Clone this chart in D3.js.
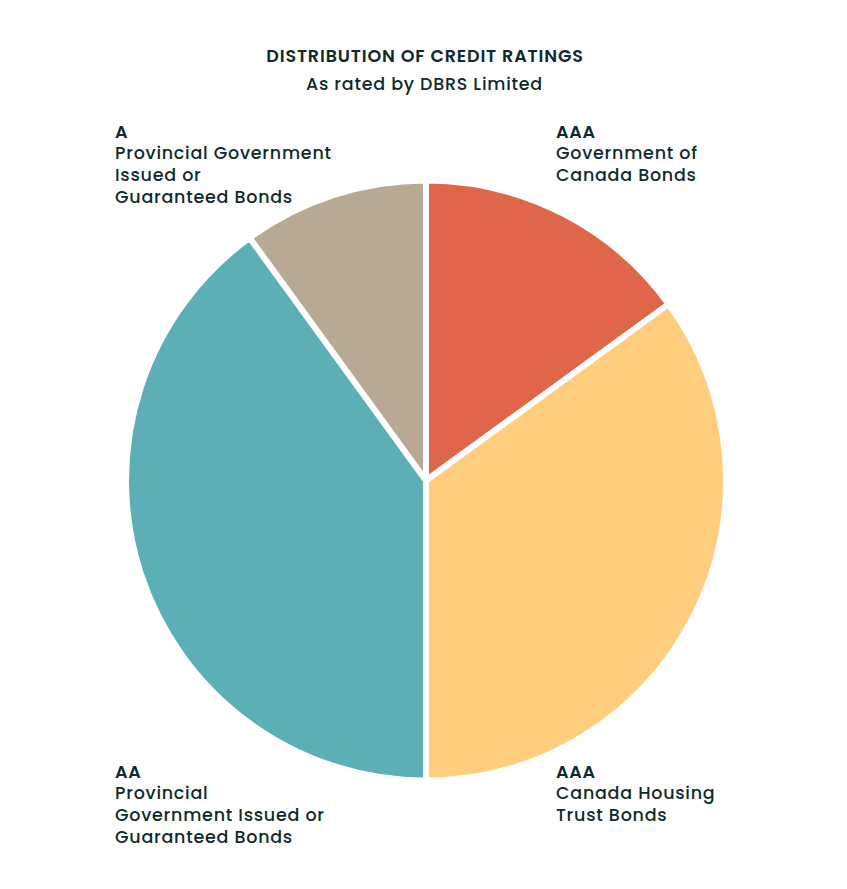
<!DOCTYPE html>
<html>
<head>
<meta charset="utf-8">
<script src="https://cdn.jsdelivr.net/npm/d3@7"></script>
<style>
  body { margin: 0; background: #fff; }
  svg text { font-family: Poppins, Inter, "Noto Sans", sans-serif; fill: #0f2a2b; }
</style>
</head>
<body>
<svg id="chart"></svg>
<script>
// chart data
const ratings = ["AAA", "AAA", "AA", "A"];
const categories = [
    ["Government of", "Canada Bonds"],
    ["Canada Housing", "Trust Bonds"],
    ["Provincial", "Government Issued or", "Guaranteed Bonds"],
    ["Provincial Government", "Issued or", "Guaranteed Bonds"]
];
const shares = [15, 35, 40, 10];
const colors = ["#e0664a", "#fecd7d", "#5dafb7", "#b8a995"];

const width = 847, height = 889;
const cx = 426, cy = 480.5, radius = 300;

const svg = d3.select("#chart")
    .attr("width", width)
    .attr("height", height);

svg.append("text")
    .attr("x", 425)
    .attr("y", 62)
    .attr("text-anchor", "middle")
    .style("font-size", "17.5px")
    .style("font-weight", 600)
    .style("letter-spacing", "0.85px")
    .text("DISTRIBUTION OF CREDIT RATINGS");

svg.append("text")
    .attr("x", 424.5)
    .attr("y", 89.5)
    .attr("text-anchor", "middle")
    .style("font-size", "17.5px")
    .style("font-weight", 500)
    .style("letter-spacing", "0.75px")
    .text("As rated by DBRS Limited");

const pie = d3.pie().sort(null).value(d => d);
const arc = d3.arc().innerRadius(0).outerRadius(radius);

const g = svg.append("g")
    .attr("transform", `translate(${cx}, ${cy})`);

g.selectAll("path")
    .data(pie(shares))
    .enter()
    .append("path")
    .attr("d", arc)
    .attr("fill", (d, i) => colors[i])
    .attr("stroke", "#fff")
    .attr("stroke-width", 6)
    .attr("stroke-linejoin", "round");

// label blocks sit in the four corners around the pie
const labelPos = [
    {x: 556, y: 137.5},
    {x: 556, y: 777.5},
    {x: 115, y: 777.5},
    {x: 115, y: 137.5}
];
const lineGap = 21.8;

ratings.forEach((r, i) => {
    const t = svg.append("text")
        .attr("x", labelPos[i].x)
        .attr("y", labelPos[i].y)
        .style("font-size", "17.5px")
        .style("letter-spacing", "0.75px");
    t.append("tspan")
        .attr("x", labelPos[i].x)
        .style("font-weight", 600)
        .text(r);
    categories[i].forEach(line => {
        t.append("tspan")
            .attr("x", labelPos[i].x)
            .attr("dy", lineGap)
            .style("font-weight", 500)
            .text(line);
    });
});
</script>
</body>
</html>
